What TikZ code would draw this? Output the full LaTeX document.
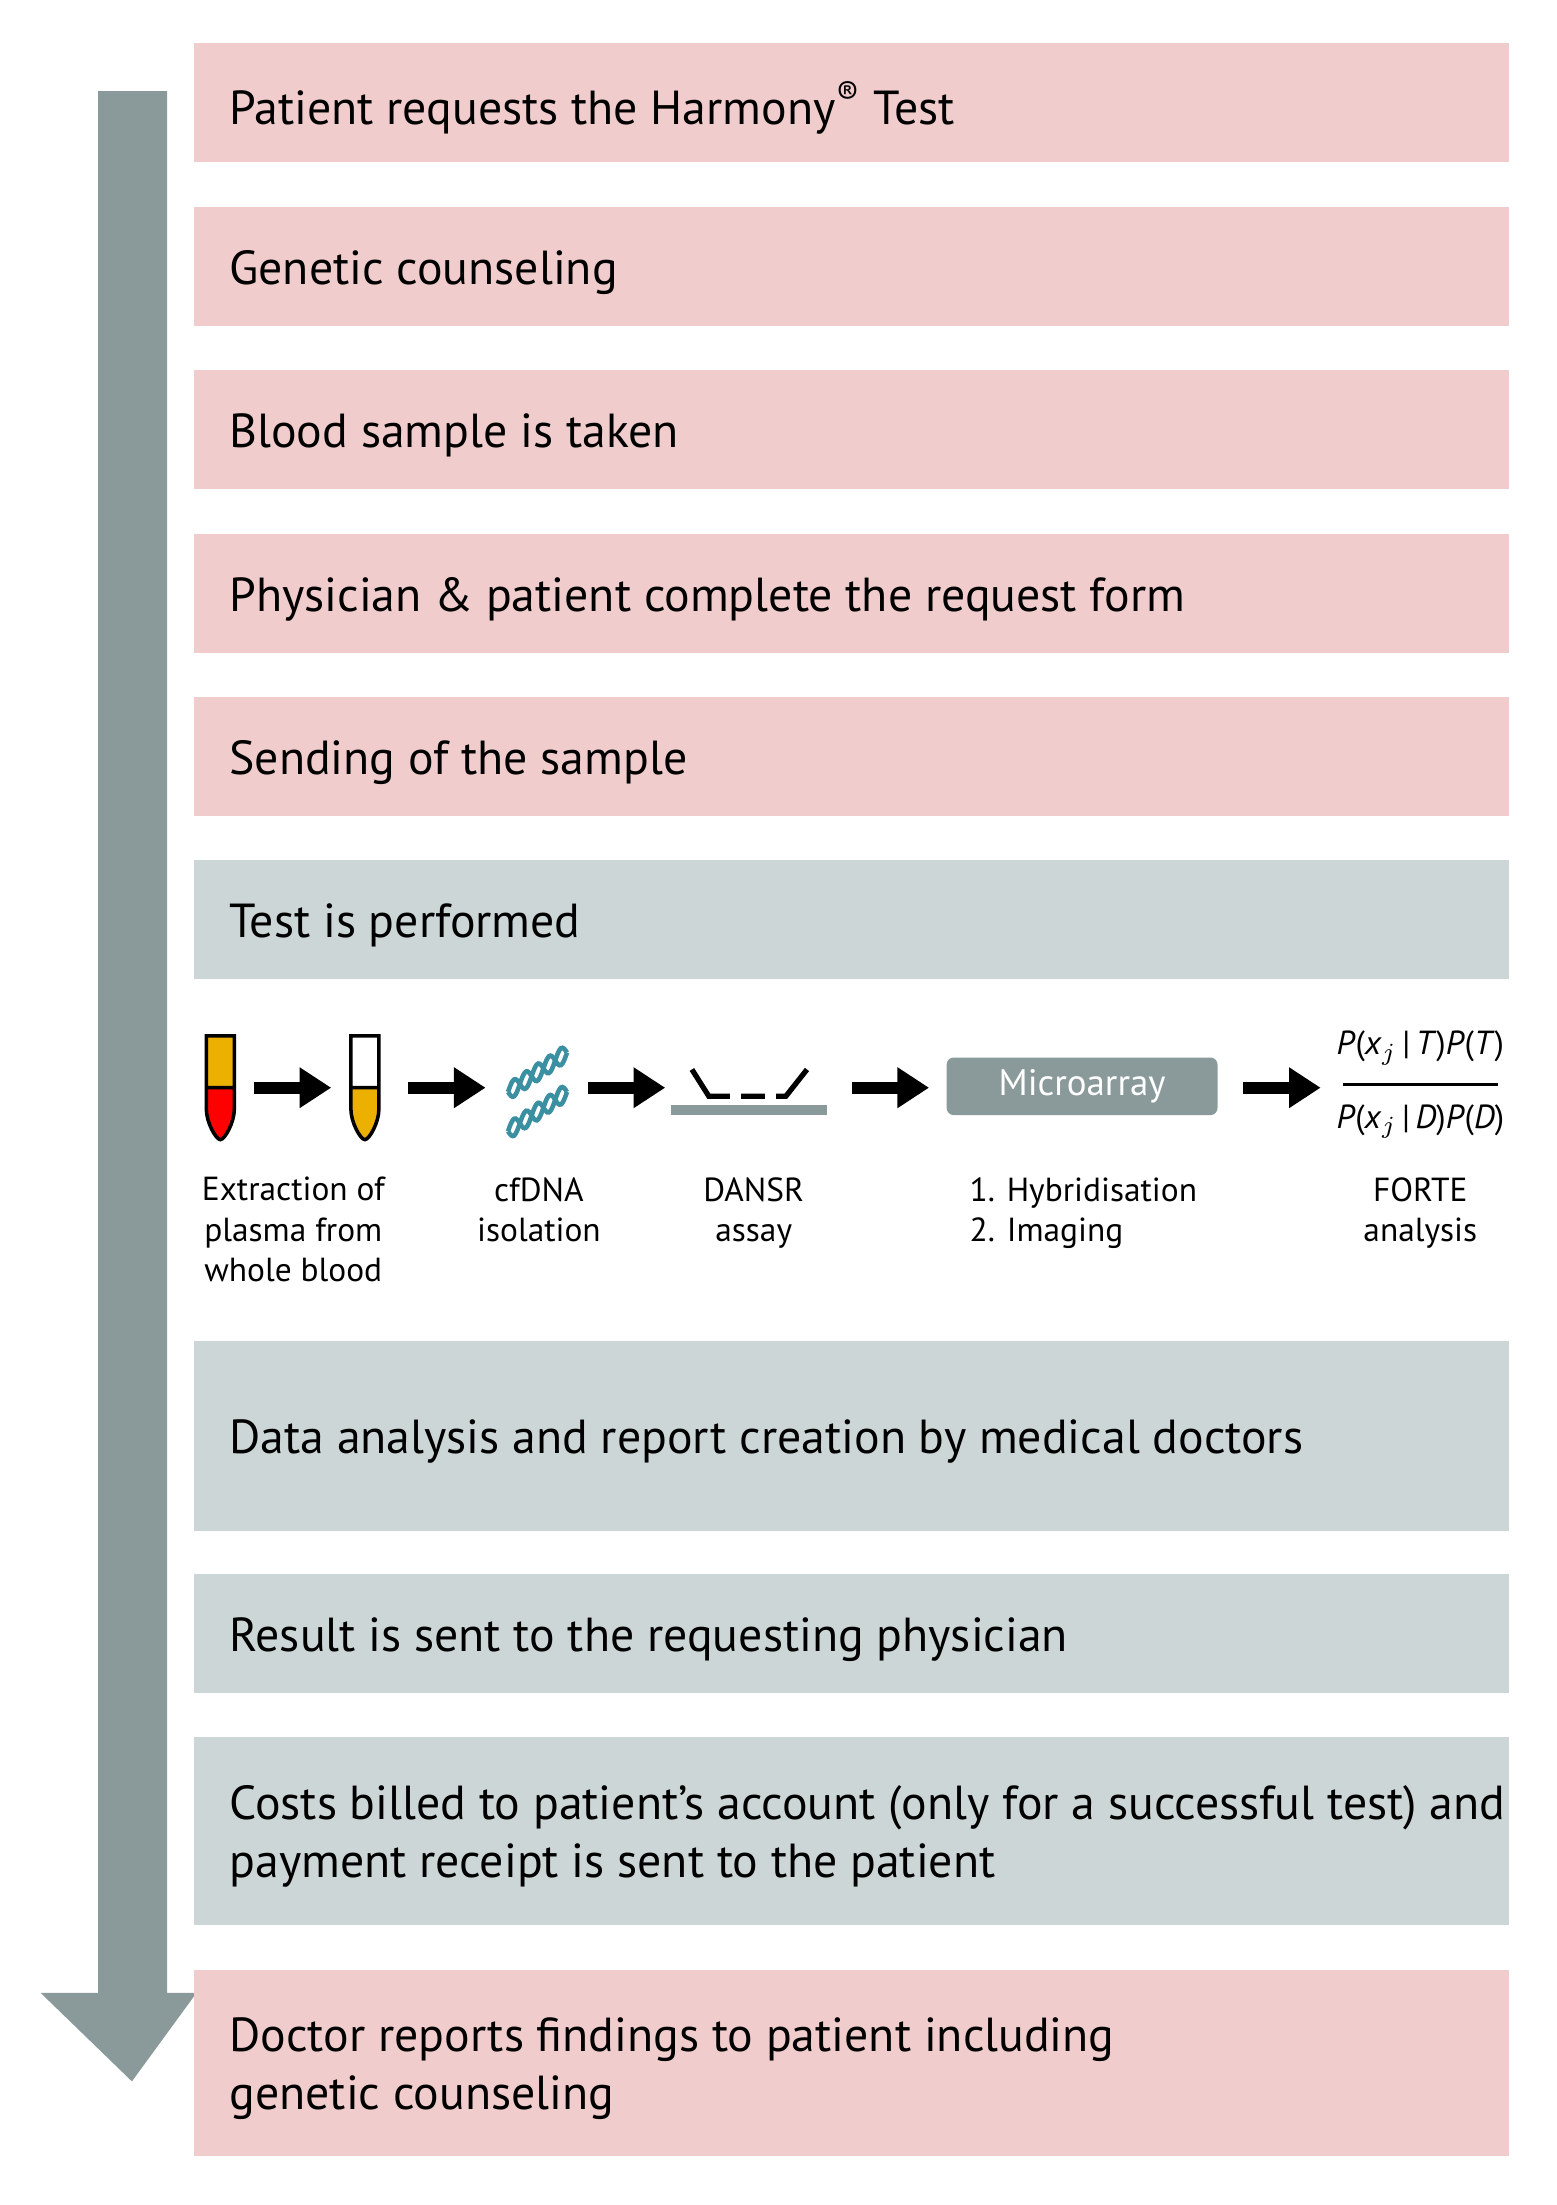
\documentclass[tikz,border=0pt]{standalone}
\usepackage{fontspec}
\setmainfont{PT Sans}
\usetikzlibrary{positioning,arrows.meta}
\definecolor{stepred}{HTML}{F0CDCC}
\definecolor{stepgray}{HTML}{CDD6D7}
\definecolor{flowgray}{HTML}{8A9A9B}
\definecolor{dnateal}{HTML}{3A8FA0}
\definecolor{tubeyellow}{HTML}{EBB000}
\tikzset{
    stage/.style={minimum width=937*0.014035cm, align=left,
        inner sep=0pt, font=\fontsize{13.6}{16.5}\selectfont, anchor=north west},
    lab/.style={font=\fontsize{9.5}{11.5}\selectfont, align=center, anchor=north},
    go/.style={-{Triangle[length=9pt,width=11pt]}, line width=3.5pt},
}
\begin{document}
\begin{tikzpicture}[x=0.014035cm,y=-0.014035cm]
            \useasboundingbox (0,0) rectangle (1109.4,1571.1);
            % flow arrow on the left
            \fill[flowgray] (70,65) -- (119,65) -- (119,1420) -- (140,1420)
                -- (94,1483) -- (29,1420) -- (70,1420) -- cycle;
            % steps
            \node[stage, fill=stepred, minimum height=85*0.014035cm] (s1) at (138,30) {};
            \node[stage, fill=stepred, minimum height=85*0.014035cm] (s2) at (138,147) {};
            \node[stage, fill=stepred, minimum height=85*0.014035cm] (s3) at (138,263) {};
            \node[stage, fill=stepred, minimum height=85*0.014035cm] (s4) at (138,380) {};
            \node[stage, fill=stepred, minimum height=85*0.014035cm] (s5) at (138,496) {};
            \node[stage, fill=stepgray, minimum height=85*0.014035cm] (s6) at (138,612) {};
            \node[stage, fill=stepgray, minimum height=135*0.014035cm] (s7) at (138,955) {};
            \node[stage, fill=stepgray, minimum height=85*0.014035cm] (s8) at (138,1121) {};
            \node[stage, fill=stepgray, minimum height=134*0.014035cm] (s9) at (138,1237) {};
            \node[stage, fill=stepred, minimum height=133*0.014035cm] (s10) at (138,1403) {};
            \foreach \s/\t in {s1/Patient requests the Harmony\textsuperscript{®} Test,
                s2/Genetic counseling, s3/Blood sample is taken,
                s4/Physician \& patient complete the request form, s5/Sending of the sample,
                s6/Test is performed, s7/Data analysis and report creation by medical doctors,
                s8/Result is sent to the requesting physician,
                s9/{Costs billed to patient's account (only for a successful test) and\\payment receipt is sent to the patient},
                s10/{Doctor reports findings to patient including\\genetic counseling}}
                \node[stage, anchor=west, minimum width=0pt] at ([xshift=25*0.014035cm, yshift=-4*0.014035cm]\s.west) {\t};
            % tubes
            \begin{scope}
                \clip (147,738) -- (167,738) -- (167,790) .. controls (167,800) and (160,812) .. (157,812)
                    .. controls (154,812) and (147,800) .. (147,790) -- cycle;
                \fill[tubeyellow] (147,738) rectangle (167,775);
                \fill[red] (147,775) rectangle (167,812);
            \end{scope}
            \draw[line width=1pt] (147,738) -- (167,738) -- (167,790) .. controls (167,800) and (160,812) .. (157,812)
                .. controls (154,812) and (147,800) .. (147,790) -- cycle (147,775) -- (167,775);
            \begin{scope}[xshift=103*0.014035cm]
                \clip (147,738) -- (167,738) -- (167,790) .. controls (167,800) and (160,812) .. (157,812)
                    .. controls (154,812) and (147,800) .. (147,790) -- cycle;
                \fill[white] (147,738) rectangle (167,775);
                \fill[tubeyellow] (147,775) rectangle (167,812);
            \end{scope}
            \draw[line width=1pt, xshift=103*0.014035cm] (147,738) -- (167,738) -- (167,790) .. controls (167,800) and (160,812) .. (157,812)
                .. controls (154,812) and (147,800) .. (147,790) -- cycle (147,775) -- (167,775);
            % DNA
            \foreach \dy in {0,28} {
                \draw[dnateal, line width=1.3pt, domain=0:1, samples=40, yshift=-\dy*0.014035cm]
                    plot ({362+42*\x}, {778-28*\x+6*sin(900*\x)});
                \draw[dnateal, line width=1.3pt, domain=0:1, samples=40, yshift=-\dy*0.014035cm]
                    plot ({362+42*\x}, {778-28*\x-6*sin(900*\x)});
            }
            % DANSR
            \draw[line width=1.5pt] (493,762) -- (505,781) -- (520,781) (528,781) -- (545,781) (553,781) -- (560,781) -- (575,762);
            \draw[flowgray, line width=3pt] (478,791) -- (589,791);
            % microarray
            \node[fill=flowgray, rounded corners=2pt, minimum width=193*0.014035cm, minimum height=41*0.014035cm,
                text=white, font=\fontsize{10.5}{12}\selectfont] (micro) at (771,774) {Microarray};
            \node[font=\fontsize{9.5}{11}\selectfont, inner sep=1pt, align=center] (forte) at (1012,773)
                {\textit{P}(\textit{x}$_j$\,|\,\textit{T})\textit{P}(\textit{T})\\[-2pt]\rule{1.55cm}{1pt}\\[1pt]\textit{P}(\textit{x}$_j$\,|\,\textit{D})\textit{P}(\textit{D})};
            % arrows
            \draw[go] (181,775) -- (236,775);
            \draw[go] (291,775) -- (346,775);
            \draw[go] (419,775) -- (474,775);
            \draw[go] (607,775) -- (662,775);
            \draw[go] (886,775) -- (941,775);
            % labels
            \node[lab] (l1) at (209,830) {Extraction of\\plasma from\\whole blood};
            \node[lab] (l2) at (384,830) {cfDNA\\isolation};
            \node[lab] (l3) at (537,830) {DANSR\\assay};
            \node[lab, align=left, anchor=north west] (l4) at (682,830) {1. Hybridisation\\2. Imaging};
            \node[lab] (l5) at (1012,830) {FORTE\\analysis};
            \end{tikzpicture}
\end{document}
